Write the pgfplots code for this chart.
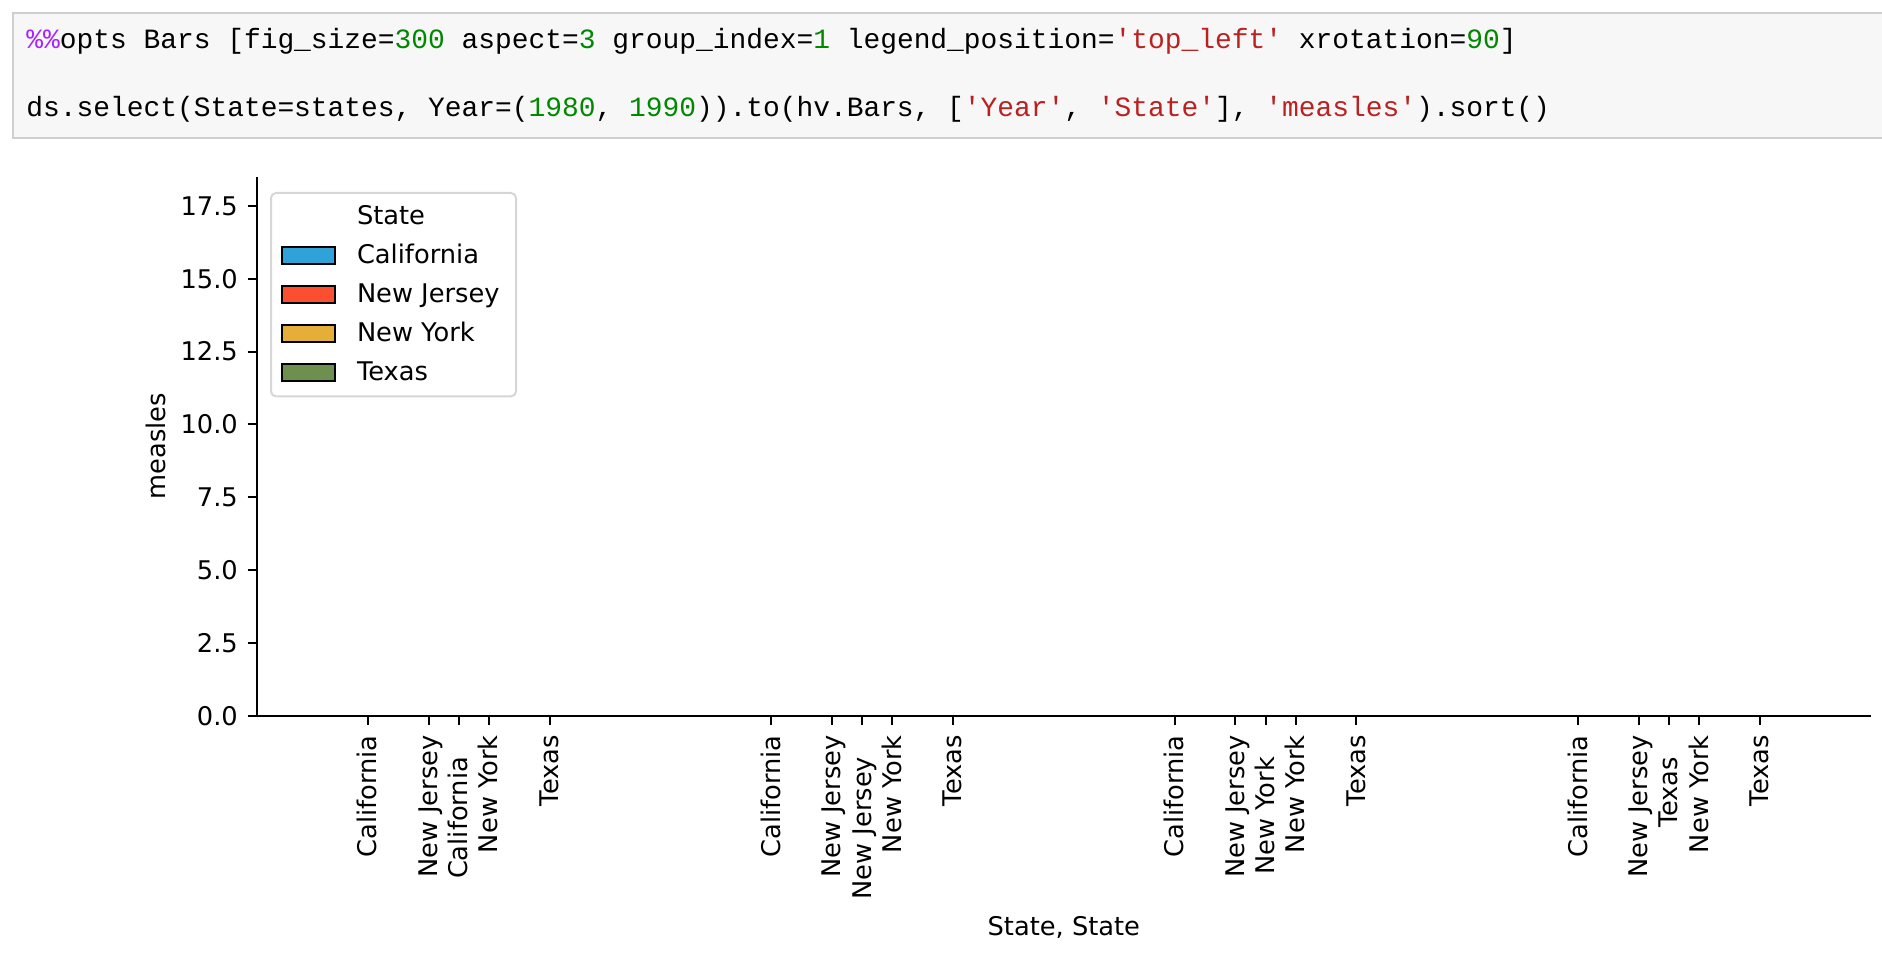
\documentclass[border=0pt]{standalone}
\usepackage{pgfplots}
\pgfplotsset{compat=1.18}
\usepackage{fontspec}
\setmainfont{DejaVu Sans}
\setmonofont{Liberation Mono}
\definecolor{cCA}{HTML}{30A2DA}
\definecolor{cNJ}{HTML}{FC4F30}
\definecolor{cNY}{HTML}{E5AE38}
\definecolor{cTX}{HTML}{6D904F}
\definecolor{cellbg}{HTML}{F7F7F7}
\definecolor{cellbd}{HTML}{CFCFCF}
\definecolor{cMeta}{HTML}{AA22FF}
\definecolor{cNum}{HTML}{008800}
\definecolor{cStr}{HTML}{BA2121}
\definecolor{legbd}{HTML}{D6D6D6}
\newcommand\cf{\fontsize{12.85pt}{15.4pt}\selectfont}
\newcommand\codef{\ttfamily\fontsize{13.95pt}{16pt}\selectfont}

\begin{document}
\begin{tikzpicture}
\useasboundingbox (0,0) rectangle (941pt,-482pt);
\fill[cellbg] (6.4pt,-6.65pt) rectangle (945pt,-69.15pt);
\draw[cellbd, line width=0.9pt] (945pt,-6.65pt) -- (6.4pt,-6.65pt) -- (6.4pt,-69.15pt) -- (945pt,-69.15pt);
\node[anchor=base west, inner sep=0pt, font=\codef] at (13pt,-24pt)
  {{\color{cMeta}\%\%}opts Bars [fig\_size={\color{cNum}300} aspect={\color{cNum}3} group\_index={\color{cNum}1} legend\_position={\color{cStr}'top\_left'} xrotation={\color{cNum}90}]};
\node[anchor=base west, inner sep=0pt, font=\codef] at (13pt,-58pt)
  {ds.select(State=states, Year=({\color{cNum}1980}, {\color{cNum}1990})).to(hv.Bars, [{\color{cStr}'Year'}, {\color{cStr}'State'}], {\color{cStr}'measles'}).sort()};
\begin{axis}[
  at={(128.35pt,-357.85pt)}, anchor=south west,
  scale only axis, width=807.15pt, height=269.35pt,
  xmin=-1.84, xmax=24.84, ymin=0, ymax=18.49,
  axis lines=left,
  axis line style={-, line width=1pt, black},
  tick style={line width=1pt, black},
  tick align=outside, major tick length=4.5pt,
  xtick={0,1,2,3,6.6667,7.6667,8.6667,9.6667,13.3333,14.3333,15.3333,16.3333,20,21,22,23},
  xticklabels={California,New Jersey,New York,Texas,California,New Jersey,New York,Texas,California,New Jersey,New York,Texas,California,New Jersey,New York,Texas},
  extra x ticks={1.5,8.1667,14.8333,21.5},
  extra x tick labels={California,New Jersey,New York,Texas},
  extra x tick style={xticklabel shift=15.9pt},
  xticklabel style={rotate=90, anchor=east, inner sep=0pt, text height=11.92pt, text depth=3.03pt, font=\cf},
  xticklabel shift=5.1pt,
  ytick={0,2.5,5,7.5,10,12.5,15,17.5},
  yticklabels={0.0,2.5,5.0,7.5,10.0,12.5,15.0,17.5},
  yticklabel style={inner sep=0pt, font=\cf},
  yticklabel shift=4.75pt,
  xlabel={State, State}, ylabel={measles},
  every axis x label/.style={at={(axis description cs:0.5,-0.4071)}, anchor=base, font=\cf},
  every axis y label/.style={at={(axis description cs:-0.0568,0.5)}, rotate=90, anchor=base, font=\cf},
  legend style={at={(axis description cs:0.00824,0.9722)}, anchor=north west, draw=legbd, line width=1pt, rounded corners=2.5pt, fill=white, inner xsep=5pt, inner ysep=6.45pt, row sep=8.7pt, column sep=10.5pt, font=\cf, nodes={inner sep=0pt, text height=9.4pt, text depth=1.4pt}},
  legend cell align=left,
  legend image code/.code={\draw[sharp corners, line width=1pt, #1] (0pt,-4.25pt) rectangle (26.5pt,4.25pt);},
]
\addlegendimage{empty legend}\addlegendentry{State}
\addlegendimage{fill=cCA, draw=black}\addlegendentry{California}
\addlegendimage{fill=cNJ, draw=black}\addlegendentry{New Jersey\hspace*{3.2pt}}
\addlegendimage{fill=cNY, draw=black}\addlegendentry{New York}
\addlegendimage{fill=cTX, draw=black}\addlegendentry{Texas}
\end{axis}
\end{tikzpicture}
\end{document}
